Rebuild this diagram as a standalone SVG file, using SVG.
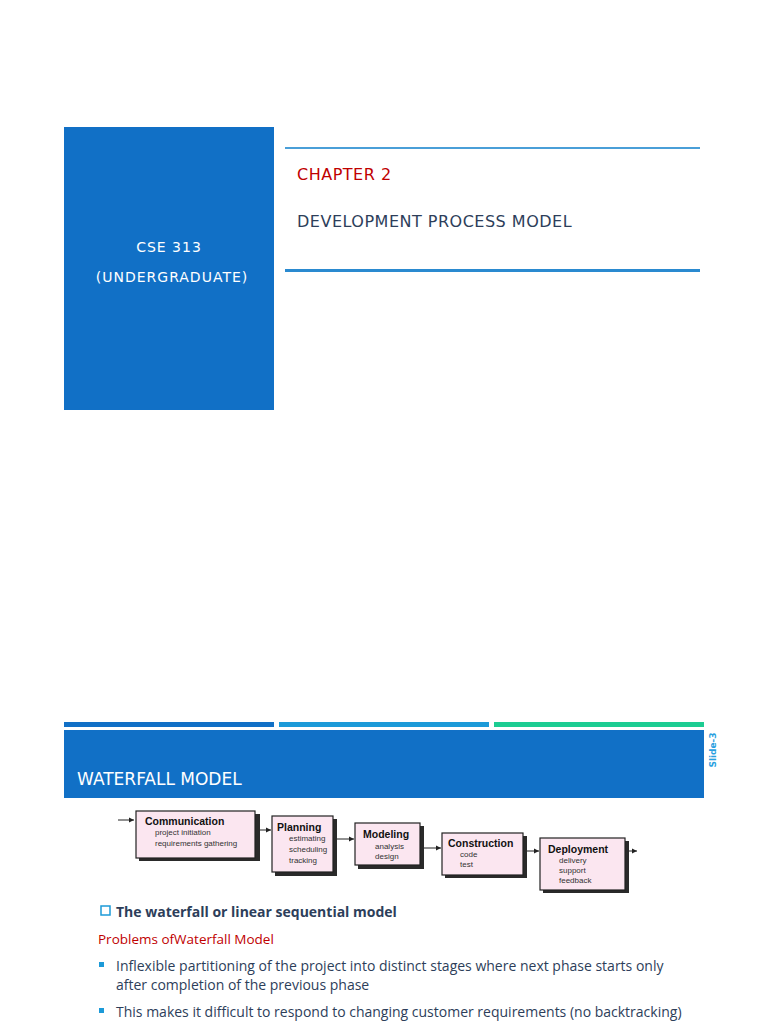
<svg xmlns="http://www.w3.org/2000/svg" width="768" height="1024" viewBox="0 0 768 1024">
<style>
.t{font-family:"DejaVu Sans",sans-serif;}
.b{fill:#fbe6f0;stroke:#222;stroke-width:1.2}
.s{fill:#2a2a2a}
.h{font-family:"Liberation Sans",sans-serif;font-weight:bold;font-size:10.5px;fill:#111}
.d{font-family:"Liberation Sans",sans-serif;font-size:8px;fill:#333}
.c{stroke:#222;stroke-width:1;marker-end:url(#a)}
.p{font-family:"Open Sans",sans-serif;font-size:14px;fill:#2d3e5a}
</style>
<defs><marker id="a" markerWidth="6" markerHeight="6" refX="5" refY="3" orient="auto"><path d="M0,0.5L5,3L0,5.5z" fill="#222"/></marker></defs>
<rect width="768" height="1024" fill="#fff"/>
<rect x="64" y="127" width="210" height="283" fill="#1170c6"/>
<text x="169" y="252" text-anchor="middle" class="t" font-size="14" fill="#fff" letter-spacing="1">CSE 313</text>
<text x="172" y="282" text-anchor="middle" class="t" font-size="14" fill="#fff" letter-spacing="1">(UNDERGRADUATE)</text>
<rect x="285" y="147" width="415" height="2" fill="#4a9fd8"/>
<rect x="285" y="269" width="415" height="3" fill="#2a8ad0"/>
<text x="297" y="180" class="t" font-size="16" fill="#c00000" letter-spacing="0.5">CHAPTER 2</text>
<text x="297" y="227" class="t" font-size="16" fill="#2d3e5a" letter-spacing="0.5">DEVELOPMENT PROCESS MODEL</text>
<rect x="64" y="722" width="210" height="5" fill="#1170c6"/>
<rect x="279" y="722" width="210" height="5" fill="#1c9ad8"/>
<rect x="494" y="722" width="210" height="5" fill="#1ccc92"/>
<rect x="64" y="730" width="640" height="68" fill="#1170c6"/>
<text x="77" y="785" class="t" font-size="17" fill="#fff">WATERFALL MODEL</text>
<text transform="translate(716,750) rotate(-90)" text-anchor="middle" class="t" font-size="9" font-weight="bold" fill="#2aa0e0">Slide-3</text>
<g id="connectors">
<line class="c" x1="118" y1="820" x2="134" y2="820"/>
<line class="c" x1="258" y1="830" x2="271" y2="830"/>
<line class="c" x1="335" y1="839" x2="354" y2="839"/>
<line class="c" x1="423" y1="848" x2="441" y2="848"/>
<line class="c" x1="526" y1="851" x2="539" y2="851"/>
<line class="c" x1="627" y1="851" x2="637" y2="851"/>
</g>
<g id="communication"><rect class="s" x="139" y="814" width="121" height="47"/><rect class="b" x="136" y="811" width="119" height="47"/>
<text class="h" x="145" y="825">Communication</text><text class="d" x="155" y="835">project initiation</text><text class="d" x="155" y="846">requirements gathering</text></g>
<g id="planning"><rect class="s" x="275" y="819" width="62" height="57"/><rect class="b" x="272" y="816" width="61" height="56"/>
<text class="h" x="277" y="831">Planning</text><text class="d" x="289" y="841">estimating</text><text class="d" x="289" y="852">scheduling</text><text class="d" x="289" y="863">tracking</text></g>
<g id="modeling"><rect class="s" x="358" y="826" width="66" height="43"/><rect class="b" x="355" y="823" width="65" height="42"/>
<text class="h" x="363" y="838">Modeling</text><text class="d" x="375" y="849">analysis</text><text class="d" x="375" y="859">design</text></g>
<g id="construction"><rect class="s" x="445" y="836" width="82" height="42"/><rect class="b" x="442" y="833" width="81" height="42"/>
<text class="h" x="448" y="847">Construction</text><text class="d" x="460" y="857">code</text><text class="d" x="460" y="867">test</text></g>
<g id="deployment"><rect class="s" x="543" y="841" width="86" height="52"/><rect class="b" x="540" y="838" width="85" height="52"/>
<text class="h" x="548" y="853">Deployment</text><text class="d" x="559" y="863">delivery</text><text class="d" x="559" y="873">support</text><text class="d" x="559" y="883">feedback</text></g>
<rect x="101" y="906" width="9" height="9" fill="none" stroke="#1c9ad8" stroke-width="1.5"/>
<text x="116" y="917" class="p" font-weight="bold">The waterfall or linear sequential model</text>
<text x="98" y="944" font-family="Open Sans,sans-serif" font-size="13.5" fill="#c00000">Problems ofWaterfall Model</text>
<rect x="99" y="962" width="5" height="5" fill="#1c9ad8"/>
<text x="116" y="971" class="p">Inflexible partitioning of the project into distinct stages where next phase starts only</text>
<text x="116" y="990" class="p">after completion of the previous phase</text>
<rect x="99" y="1008" width="5" height="5" fill="#1c9ad8"/>
<text x="116" y="1017" class="p">This makes it difficult to respond to changing customer requirements (no backtracking)</text>
</svg>
